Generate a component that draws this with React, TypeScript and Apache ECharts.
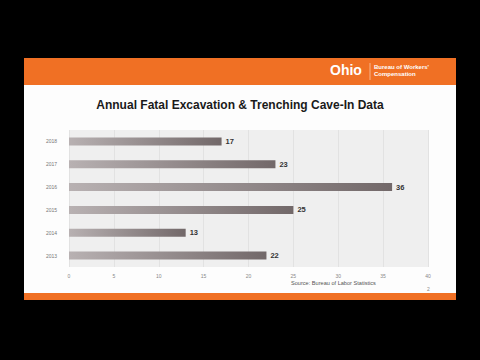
import React, { useEffect, useRef } from "react";
import * as echarts from "echarts";

const years = ["2013", "2014", "2015", "2016", "2017", "2018"];
const fatalities = [22, 13, 25, 36, 23, 17];
const xTicks = [0, 5, 10, 15, 20, 25, 30, 35, 40];

export default function App() {
  const ref = useRef<HTMLDivElement>(null);
  useEffect(() => {
    if (!ref.current) return;
    const chart = echarts.init(ref.current, undefined, { renderer: "svg" });
    chart.setOption({
      animation: false,
      backgroundColor: "#000000",
      title: {
        text: "Annual Fatal Excavation & Trenching Cave-In Data",
        left: "center",
        top: 94,
        textStyle: { fontFamily: "Liberation Sans", fontSize: 12, fontWeight: "bold", color: "#1a1a1a" },
      },
      graphic: [
        { type: "rect", z: -10, shape: { x: 24, y: 58, width: 432, height: 242 }, style: { fill: "#fdfdfd" } },
        { type: "rect", z: -9, shape: { x: 24, y: 58, width: 432, height: 27 }, style: { fill: "#f07024" } },
        { type: "rect", z: -9, shape: { x: 24, y: 293, width: 432, height: 7 }, style: { fill: "#f07024" } },
        { type: "text", z: 5, x: 330, y: 63, style: { text: "Ohio", fill: "#ffffff", font: "bold 14px Liberation Sans" } },
        { type: "line", z: 5, shape: { x1: 370, y1: 63, x2: 370, y2: 80 }, style: { stroke: "#fbd3b8", lineWidth: 0.7 } },
        { type: "text", z: 5, x: 374, y: 63.5, style: { text: "Bureau of Workers'", fill: "#ffffff", font: "bold 6px Liberation Sans" } },
        { type: "text", z: 5, x: 374, y: 70.5, style: { text: "Compensation", fill: "#ffffff", font: "bold 6px Liberation Sans" } },
        { type: "text", z: 5, x: 291, y: 280, style: { text: "Source: Bureau of Labor Statistics", fill: "#555555", font: "5.6px Liberation Sans" } },
        { type: "text", z: 5, x: 427, y: 286.5, style: { text: "2", fill: "#888888", font: "5px Liberation Sans" } },
      ],
      grid: {
        left: 69,
        right: 52,
        top: 130,
        bottom: 93,
        show: true,
        backgroundColor: "#efefef",
        borderWidth: 0,
      },
      xAxis: {
        type: "value",
        min: xTicks[0],
        max: xTicks[xTicks.length - 1],
        interval: 5,
        axisLine: { show: false },
        axisTick: { show: false },
        axisLabel: { fontSize: 5, color: "#888888", fontFamily: "Liberation Sans", margin: 6 },
        splitLine: { show: true, lineStyle: { color: "#e2e2e2", width: 1 } },
      },
      yAxis: {
        type: "category",
        data: years,
        axisLine: { show: false },
        axisTick: { show: false },
        axisLabel: { fontSize: 5, color: "#777777", fontFamily: "Liberation Sans", margin: 12 },
      },
      series: [
        {
          type: "bar",
          data: fatalities,
          barWidth: 8,
          itemStyle: {
            color: new echarts.graphic.LinearGradient(0, 0, 1, 0, [
              { offset: 0, color: "#b8b1b2" },
              { offset: 1, color: "#726869" },
            ]),
          },
          label: {
            show: true,
            position: "right",
            distance: 4,
            fontSize: 7.5,
            fontWeight: "bold",
            color: "#333333",
            fontFamily: "Liberation Sans",
          },
        },
      ],
    });
    return () => chart.dispose();
  }, []);
  return <div ref={ref} style={{ position: "fixed", left: 0, top: 0, width: 480, height: 360 }} />;
}
